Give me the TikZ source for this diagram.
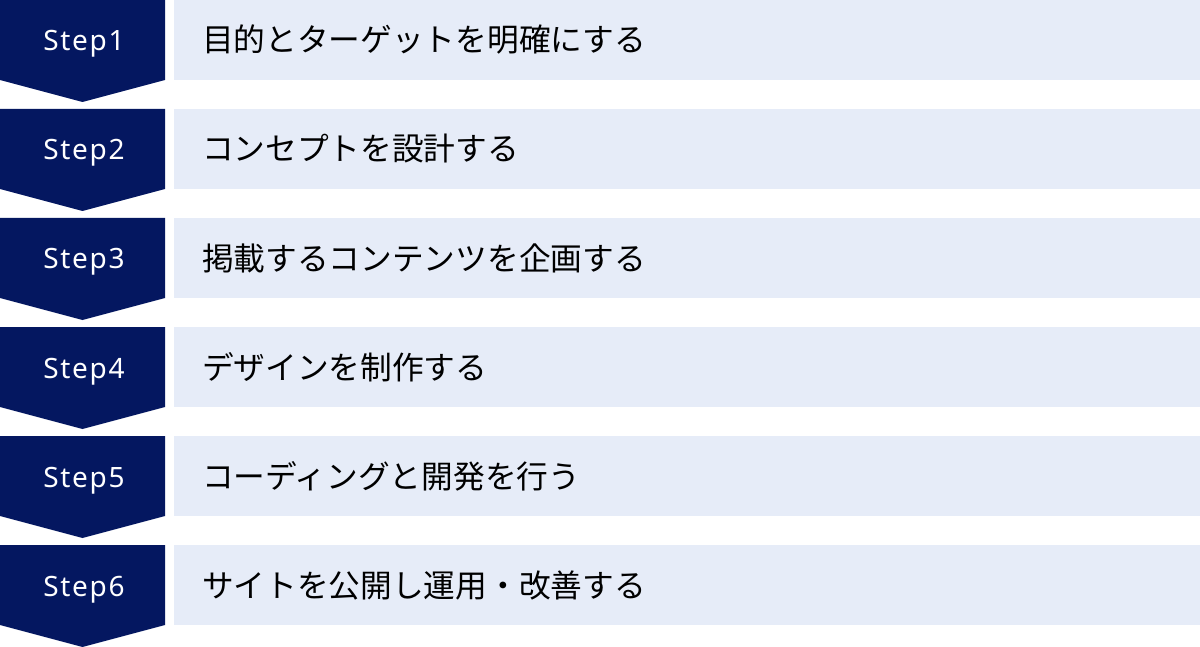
\documentclass[tikz,border=0pt]{standalone}
\usepackage{fontspec}
\setmainfont{Noto Sans CJK JP}
\newfontfamily\stepfont[LetterSpace=6]{Noto Sans}
\usetikzlibrary{positioning,calc,backgrounds}
\definecolor{stepnavy}{HTML}{041760}
\definecolor{taskblue}{HTML}{E6ECF8}
\begin{document}
\begin{tikzpicture}[x=1pt,y=1pt]
    \tikzstyle{every node}=[inner sep=0,outer sep=0]
    \tikzstyle{stepbox}=[minimum width=165,minimum height=80,text height=20,text depth=0,text=white,font=\stepfont\fontsize{28}{32}\selectfont]
    \tikzstyle{task}=[fill=taskblue,minimum height=80,text width=970,inner xsep=28,align=left,font=\fontsize{31.7}{36}\selectfont]
    \tikzstyle{chevron}=[fill=stepnavy]
    \useasboundingbox (0,0) rectangle (1200,-647);
    {
        % step labels
        \node[stepbox] (s1) at (84,-41) {Step1};
        \node[stepbox,below=29 of s1] (s2) {Step2};
        \node[stepbox,below=29 of s2] (s3) {Step3};
        \node[stepbox,below=29 of s3] (s4) {Step4};
        \node[stepbox,below=29 of s4] (s5) {Step5};
        \node[stepbox,below=29 of s5] (s6) {Step6};

        % tasks
        \node[task,anchor=north west] (t1) at (174,0) {目的とターゲットを明確にする};
        \node[task,below=29 of t1] (t2) {コンセプトを設計する};
        \node[task,below=29 of t2] (t3) {掲載するコンテンツを企画する};
        \node[task,below=29 of t3] (t4) {デザインを制作する};
        \node[task,below=29 of t4] (t5) {コーディングと開発を行う};
        \node[task,below=29 of t5] (t6) {サイトを公開し運用・改善する};

        \begin{scope}[on background layer]
            \foreach \n in {1,...,6}
                \fill[chevron] ($(t\n.north west)+(-174,0)$) -- ($(t\n.north west)+(-9,0)$)
                    -- ($(t\n.south west)+(-9,0)$) -- ($(t\n.south west)+(-91.5,-22)$)
                    -- ($(t\n.south west)+(-174,0)$) -- cycle;
        \end{scope}
    }
\end{tikzpicture}
\end{document}
